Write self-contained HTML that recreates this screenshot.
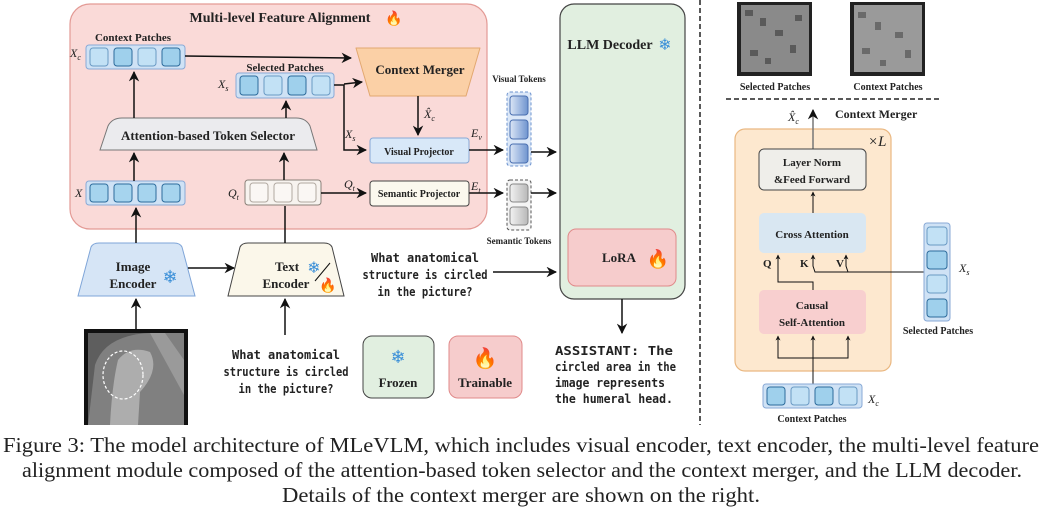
<!DOCTYPE html>
<html><head><meta charset="utf-8"><style>
html,body{margin:0;padding:0;background:#fff;}
svg{display:block;}
text{font-family:"Liberation Serif",serif;fill:#222;}
.b{font-weight:bold;}
.m{font-family:"DejaVu Sans Mono","Liberation Mono",monospace;font-weight:bold;}
.i{font-style:italic;}
.sf{fill:#3a8fd8;font-family:"DejaVu Sans",sans-serif;}
.fl{fill:#f0642a;font-family:"DejaVu Sans",sans-serif;}
</style></head><body>
<svg width="1042" height="513" viewBox="0 0 1042 513" xmlns="http://www.w3.org/2000/svg">
<defs>
<marker id="a" viewBox="0 0 10 10" refX="9" refY="5" markerWidth="7" markerHeight="7" orient="auto-start-reverse"><path d="M0,0 L10,5 L0,10 L3,5 z" fill="#111"/></marker>
<marker id="s" viewBox="0 0 10 10" refX="9" refY="5" markerWidth="5" markerHeight="5" orient="auto-start-reverse"><path d="M0,0 L10,5 L0,10 L3,5 z" fill="#111"/></marker>
<linearGradient id="vt" x1="0" x2="1"><stop offset="0" stop-color="#dbe6f6"/><stop offset="1" stop-color="#6f94cf"/></linearGradient>
<linearGradient id="st" x1="0" x2="1"><stop offset="0" stop-color="#f2f2f2"/><stop offset="1" stop-color="#b8b8b8"/></linearGradient>
</defs>

<!-- Main pink box -->
<rect x="70" y="4" width="417" height="225" rx="20" fill="#fadad8" stroke="#e39a95" stroke-width="1.2"/>
<text x="280" y="22" class="b" font-size="14" text-anchor="middle">Multi-level Feature Alignment</text>
<text x="385" y="23" class="fl" font-size="14">🔥</text>

<!-- Context patches -->
<text x="133" y="41" class="b" font-size="11" text-anchor="middle">Context Patches</text>
<text x="70" y="57" class="i" font-size="12">X<tspan font-size="8" dy="3">c</tspan></text>
<rect x="86" y="45" width="99" height="24" rx="3" fill="#cfe2f5" stroke="#88a9d6"/>
<rect x="90" y="48" width="18" height="18" rx="3" fill="#c2e1f5" stroke="#6a9ac4"/>
<rect x="114" y="48" width="18" height="18" rx="3" fill="#9fd0ec" stroke="#2d6b9c"/>
<rect x="138" y="48" width="18" height="18" rx="3" fill="#c2e1f5" stroke="#6a9ac4"/>
<rect x="162" y="48" width="18" height="18" rx="3" fill="#9fd0ec" stroke="#2d6b9c"/>

<!-- Selected patches -->
<text x="285" y="71" class="b" font-size="11" text-anchor="middle">Selected Patches</text>
<text x="218" y="88" class="i" font-size="12">X<tspan font-size="8" dy="3">s</tspan></text>
<rect x="236" y="73" width="98" height="25" rx="3" fill="#cfe2f5" stroke="#88a9d6"/>
<rect x="240" y="76" width="18" height="19" rx="3" fill="#9fd0ec" stroke="#2d6b9c"/>
<rect x="264" y="76" width="18" height="19" rx="3" fill="#c2e1f5" stroke="#6a9ac4"/>
<rect x="288" y="76" width="18" height="19" rx="3" fill="#9fd0ec" stroke="#2d6b9c"/>
<rect x="312" y="76" width="18" height="19" rx="3" fill="#c2e1f5" stroke="#6a9ac4"/>

<!-- Context Merger -->
<path d="M356,48 L480,48 L466,96 L370,96 Z" fill="#fbd0a6" stroke="#e2a870" stroke-linejoin="round"/>
<text x="420" y="74" class="b" font-size="13" text-anchor="middle">Context Merger</text>
<line x1="185" y1="56" x2="351" y2="58" stroke="#111" stroke-width="1.5" marker-end="url(#a)"/>
<polyline points="334,85 344,85 344,150 366,150" fill="none" stroke="#111" stroke-width="1.5" marker-end="url(#a)"/>
<line x1="344" y1="84" x2="362" y2="82" stroke="#111" stroke-width="1.5" marker-end="url(#a)"/>
<text x="345" y="138" class="i" font-size="12">X<tspan font-size="8" dy="3">s</tspan></text>
<line x1="418" y1="96" x2="418" y2="135" stroke="#111" stroke-width="1.5" marker-end="url(#a)"/>
<text x="424" y="118" class="i" font-size="12">X̂<tspan font-size="8" dy="3">c</tspan></text>

<!-- Token selector -->
<path d="M100,150 L108,126 Q112,118 122,118 L296,118 Q306,118 310,126 L317,150 Z" fill="#ebebee" stroke="#777"/>
<text x="208" y="140" class="b" font-size="13" text-anchor="middle">Attention-based Token Selector</text>
<line x1="134" y1="118" x2="134" y2="72" stroke="#111" stroke-width="1.5" marker-end="url(#a)"/>
<line x1="286" y1="118" x2="286" y2="101" stroke="#111" stroke-width="1.5" marker-end="url(#a)"/>

<!-- X row -->
<text x="75" y="197" class="i" font-size="12">X</text>
<rect x="86" y="181" width="99" height="24" rx="3" fill="#cfe2f5" stroke="#88a9d6"/>
<rect x="90" y="184" width="18" height="18" rx="3" fill="#a6d4ee" stroke="#2d6b9c"/>
<rect x="114" y="184" width="18" height="18" rx="3" fill="#a6d4ee" stroke="#2d6b9c"/>
<rect x="138" y="184" width="18" height="18" rx="3" fill="#a6d4ee" stroke="#2d6b9c"/>
<rect x="162" y="184" width="18" height="18" rx="3" fill="#a6d4ee" stroke="#2d6b9c"/>
<line x1="134" y1="181" x2="134" y2="153" stroke="#111" stroke-width="1.5" marker-end="url(#a)"/>

<!-- Qt row -->
<text x="228" y="197" class="i" font-size="12">Q<tspan font-size="8" dy="3">t</tspan></text>
<rect x="245" y="180" width="76" height="25" rx="3" fill="#f7f3ef" stroke="#8a8078"/>
<rect x="250" y="183" width="18" height="19" rx="3" fill="#faf7f4" stroke="#b0a8a0"/>
<rect x="274" y="183" width="18" height="19" rx="3" fill="#faf7f4" stroke="#b0a8a0"/>
<rect x="298" y="183" width="18" height="19" rx="3" fill="#faf7f4" stroke="#b0a8a0"/>
<line x1="284" y1="180" x2="284" y2="153" stroke="#111" stroke-width="1.5" marker-end="url(#a)"/>
<line x1="321" y1="193" x2="366" y2="193" stroke="#111" stroke-width="1.5" marker-end="url(#a)"/>
<text x="344" y="188" class="i" font-size="12">Q<tspan font-size="8" dy="3">t</tspan></text>

<!-- Projectors -->
<rect x="370" y="138" width="99" height="25" rx="3" fill="#d8e8f8" stroke="#88a9d6"/>
<text x="419" y="155" class="b" font-size="10" text-anchor="middle">Visual Projector</text>
<rect x="370" y="181" width="99" height="25" rx="3" fill="#fbf8ee" stroke="#444"/>
<text x="419" y="197" class="b" font-size="10" text-anchor="middle">Semantic Projector</text>
<text x="471" y="137" class="i" font-size="12">E<tspan font-size="8" dy="3">v</tspan></text>
<text x="471" y="190" class="i" font-size="12">E<tspan font-size="8" dy="3">t</tspan></text>
<line x1="469" y1="150" x2="503" y2="150" stroke="#111" stroke-width="1.5" marker-end="url(#a)"/>
<line x1="469" y1="193" x2="503" y2="193" stroke="#111" stroke-width="1.5" marker-end="url(#a)"/>

<!-- Visual tokens -->
<text x="519" y="82" class="b" font-size="9" text-anchor="middle">Visual Tokens</text>
<rect x="507" y="92" width="24" height="74" rx="3" fill="#dce8f8" stroke="#6d93cf" stroke-dasharray="3,2"/>
<rect x="510" y="96" width="18" height="19" rx="3" fill="url(#vt)" stroke="#4a6fb0"/>
<rect x="510" y="120" width="18" height="19" rx="3" fill="url(#vt)" stroke="#4a6fb0"/>
<rect x="510" y="144" width="18" height="19" rx="3" fill="url(#vt)" stroke="#4a6fb0"/>
<line x1="531" y1="152" x2="556" y2="152" stroke="#111" stroke-width="1.5" marker-end="url(#a)"/>
<!-- Semantic tokens -->
<rect x="507" y="180" width="24" height="50" rx="3" fill="#f4f4f4" stroke="#555" stroke-dasharray="3,2"/>
<rect x="510" y="184" width="18" height="18" rx="3" fill="url(#st)" stroke="#888"/>
<rect x="510" y="207" width="18" height="18" rx="3" fill="url(#st)" stroke="#888"/>
<line x1="531" y1="193" x2="556" y2="193" stroke="#111" stroke-width="1.5" marker-end="url(#a)"/>
<text x="519" y="244" class="b" font-size="9" text-anchor="middle">Semantic Tokens</text>

<!-- LLM Decoder -->
<rect x="560" y="4" width="125" height="295" rx="14" fill="#e1efe0" stroke="#444" stroke-width="1.2"/>
<text x="610" y="49" class="b" font-size="14" text-anchor="middle">LLM Decoder</text>
<text x="665" y="50" class="sf" font-size="16" text-anchor="middle">❄</text>
<rect x="568" y="229" width="108" height="57" rx="8" fill="#f6cccc" stroke="#e08a8a"/>
<text x="619" y="262" class="b" font-size="13" text-anchor="middle">LoRA</text>
<text x="658" y="265" class="fl" font-size="18" text-anchor="middle">🔥</text>
<line x1="622" y1="299" x2="622" y2="333" stroke="#111" stroke-width="1.5" marker-end="url(#a)"/>

<!-- Encoders -->
<path d="M78,296 L91,247 Q93,243 99,243 L174,243 Q180,243 182,247 L195,296 Z" fill="#d6e5f6" stroke="#7fa5d8"/>
<text x="133" y="271" class="b" font-size="13" text-anchor="middle">Image</text>
<text x="133" y="288" class="b" font-size="13" text-anchor="middle">Encoder</text>
<text x="170" y="283" class="sf" font-size="18" text-anchor="middle">❄</text>
<path d="M228,296 L240,247 Q242,243 248,243 L324,243 Q330,243 332,247 L344,296 Z" fill="#fbf7ea" stroke="#444"/>
<text x="287" y="271" class="b" font-size="13" text-anchor="middle">Text</text>
<text x="286" y="288" class="b" font-size="13" text-anchor="middle">Encoder</text>
<text x="314" y="273" class="sf" font-size="16" text-anchor="middle">❄</text>
<line x1="315" y1="281" x2="330" y2="263" stroke="#111"/>
<text x="328" y="290" class="fl" font-size="14" text-anchor="middle">🔥</text>
<line x1="188" y1="268" x2="234" y2="268" stroke="#111" stroke-width="1.5" marker-end="url(#a)"/>
<line x1="136" y1="243" x2="136" y2="208" stroke="#111" stroke-width="1.5" marker-end="url(#a)"/>
<line x1="136" y1="329" x2="136" y2="299" stroke="#111" stroke-width="1.5" marker-end="url(#a)"/>
<line x1="285" y1="243" x2="285" y2="206" stroke="#111" stroke-width="1.5"/>
<line x1="285" y1="335" x2="285" y2="299" stroke="#111" stroke-width="1.5" marker-end="url(#a)"/>

<text x="425" y="262" class="m" font-size="12" text-anchor="middle" textLength="108" lengthAdjust="spacingAndGlyphs">What anatomical</text>
<text x="425" y="279" class="m" font-size="12" text-anchor="middle" textLength="125" lengthAdjust="spacingAndGlyphs">structure is circled</text>
<text x="425" y="296" class="m" font-size="12" text-anchor="middle" textLength="95" lengthAdjust="spacingAndGlyphs">in the picture?</text>
<line x1="493" y1="272" x2="556" y2="272" stroke="#111" stroke-width="1.5" marker-end="url(#a)"/>

<!-- Xray -->
<rect x="84" y="329" width="104" height="96" fill="#111"/>
<rect x="88" y="333" width="96" height="92" fill="#5e5e5e"/>
<path d="M88,425 L95,365 Q105,335 150,333 L184,333 L184,425 Z" fill="#808080"/>
<path d="M110,425 Q112,385 118,360 Q130,345 150,352 Q160,370 140,392 L138,425 Z" fill="#adadad"/>
<path d="M150,333 L184,395 L184,360 L165,333 Z" fill="#9a9a9a"/>
<ellipse cx="123" cy="375" rx="20" ry="24" fill="none" stroke="#fff" stroke-dasharray="3,2" stroke-width="1.2"/>

<text x="286" y="359" class="m" font-size="12" text-anchor="middle" textLength="108" lengthAdjust="spacingAndGlyphs">What anatomical</text>
<text x="286" y="376" class="m" font-size="12" text-anchor="middle" textLength="125" lengthAdjust="spacingAndGlyphs">structure is circled</text>
<text x="286" y="393" class="m" font-size="12" text-anchor="middle" textLength="95" lengthAdjust="spacingAndGlyphs">in the picture?</text>

<rect x="363" y="336" width="71" height="62" rx="9" fill="#e1efe0" stroke="#444"/>
<text x="398" y="363" class="sf" font-size="18" text-anchor="middle">❄</text>
<text x="398" y="387" class="b" font-size="13" text-anchor="middle">Frozen</text>
<rect x="449" y="336" width="73" height="62" rx="9" fill="#f6cccc" stroke="#e08a8a"/>
<text x="485" y="365" class="fl" font-size="20" text-anchor="middle">🔥</text>
<text x="485" y="387" class="b" font-size="13" text-anchor="middle">Trainable</text>

<text x="555" y="355" class="m" font-size="12" textLength="118" lengthAdjust="spacingAndGlyphs">ASSISTANT: The</text>
<text x="555" y="371" class="m" font-size="12" textLength="121" lengthAdjust="spacingAndGlyphs">circled area in the</text>
<text x="555" y="387" class="m" font-size="12" textLength="110" lengthAdjust="spacingAndGlyphs">image represents</text>
<text x="555" y="403" class="m" font-size="12" textLength="118" lengthAdjust="spacingAndGlyphs">the humeral head.</text>

<!-- Divider -->
<line x1="700" y1="0" x2="700" y2="425" stroke="#222" stroke-width="1.5" stroke-dasharray="5,3"/>

<!-- Right thumbnails -->
<rect x="737" y="2" width="75" height="74" fill="#222"/>
<rect x="741" y="5" width="68" height="67" fill="#8a8a8a"/>
<g fill="#5a5a5a"><rect x="745" y="10" width="8" height="6"/><rect x="760" y="18" width="6" height="8"/><rect x="775" y="30" width="8" height="6"/><rect x="790" y="45" width="6" height="8"/><rect x="750" y="50" width="8" height="6"/><rect x="765" y="58" width="6" height="6"/><rect x="795" y="15" width="7" height="6"/></g>
<rect x="850" y="2" width="75" height="74" fill="#222"/>
<rect x="854" y="5" width="68" height="67" fill="#9a9a9a"/>
<g fill="#6a6a6a"><rect x="858" y="12" width="8" height="6"/><rect x="875" y="22" width="6" height="8"/><rect x="895" y="32" width="8" height="6"/><rect x="905" y="50" width="6" height="8"/><rect x="862" y="48" width="8" height="6"/><rect x="880" y="60" width="6" height="6"/></g>
<text x="775" y="90" class="b" font-size="10" text-anchor="middle">Selected Patches</text>
<text x="888" y="90" class="b" font-size="10" text-anchor="middle">Context Patches</text>
<line x1="726" y1="99" x2="942" y2="99" stroke="#222" stroke-width="1.5" stroke-dasharray="5,3"/>

<text x="835" y="118" class="b" font-size="12">Context Merger</text>
<text x="788" y="121" class="i" font-size="12">X̂<tspan font-size="8" dy="3">c</tspan></text>
<rect x="735" y="129" width="156" height="242" rx="10" fill="#fde8cf" stroke="#eab882" stroke-width="1.2"/>
<text x="868" y="146" class="i" font-size="15">×L</text>
<line x1="813" y1="149" x2="813" y2="110" stroke="#777" stroke-width="1.5" marker-end="url(#a)"/>
<rect x="759" y="149" width="107" height="41" rx="5" fill="#efeeea" stroke="#444"/>
<text x="812" y="166" class="b" font-size="11" text-anchor="middle">Layer Norm</text>
<text x="812" y="183" class="b" font-size="11" text-anchor="middle">&amp;Feed Forward</text>
<line x1="813" y1="213" x2="813" y2="192" stroke="#111" stroke-width="1" marker-end="url(#s)"/>
<rect x="759" y="213" width="107" height="40" rx="5" fill="#d9e7f2"/>
<text x="812" y="238" class="b" font-size="11" text-anchor="middle">Cross Attention</text>
<text x="763" y="267" class="b" font-size="11">Q</text>
<text x="800" y="267" class="b" font-size="11">K</text>
<text x="836" y="267" class="b" font-size="11">V</text>
<polyline points="813,290 813,282 778,282 778,255" fill="none" stroke="#111" stroke-width="1" marker-end="url(#s)"/>
<polyline points="924,272 815,272 813,266 813,255" fill="none" stroke="#111" stroke-width="1" marker-end="url(#s)"/>
<polyline points="848,272 846,266 846,255" fill="none" stroke="#111" stroke-width="1" marker-end="url(#s)"/>
<rect x="759" y="290" width="107" height="44" rx="5" fill="#f8cfcf"/>
<text x="812" y="309" class="b" font-size="11" text-anchor="middle">Causal</text>
<text x="812" y="326" class="b" font-size="11" text-anchor="middle">Self-Attention</text>
<polyline points="813,384 813,358 778,358 778,336" fill="none" stroke="#111" stroke-width="1" marker-end="url(#s)"/>
<polyline points="813,358 848,358 848,336" fill="none" stroke="#111" stroke-width="1" marker-end="url(#s)"/>
<line x1="813" y1="358" x2="813" y2="336" stroke="#111" stroke-width="1" marker-end="url(#s)"/>

<!-- selected patches column -->
<rect x="924" y="223" width="26" height="98" rx="3" fill="#cfe2f5" stroke="#88a9d6"/>
<rect x="927" y="227" width="20" height="18" rx="3" fill="#c2e1f5" stroke="#6a9ac4"/>
<rect x="927" y="251" width="20" height="18" rx="3" fill="#9fd0ec" stroke="#2d6b9c"/>
<rect x="927" y="275" width="20" height="18" rx="3" fill="#c2e1f5" stroke="#6a9ac4"/>
<rect x="927" y="299" width="20" height="18" rx="3" fill="#9fd0ec" stroke="#2d6b9c"/>
<text x="959" y="272" class="i" font-size="12">X<tspan font-size="8" dy="3">s</tspan></text>
<text x="938" y="334" class="b" font-size="10" text-anchor="middle">Selected Patches</text>

<!-- context patches row -->
<rect x="763" y="384" width="99" height="24" rx="3" fill="#cfe2f5" stroke="#88a9d6"/>
<rect x="767" y="387" width="18" height="18" rx="3" fill="#9fd0ec" stroke="#2d6b9c"/>
<rect x="791" y="387" width="18" height="18" rx="3" fill="#c2e1f5" stroke="#6a9ac4"/>
<rect x="815" y="387" width="18" height="18" rx="3" fill="#9fd0ec" stroke="#2d6b9c"/>
<rect x="839" y="387" width="18" height="18" rx="3" fill="#c2e1f5" stroke="#6a9ac4"/>
<text x="868" y="403" class="i" font-size="12">X<tspan font-size="8" dy="3">c</tspan></text>
<text x="812" y="422" class="b" font-size="10" text-anchor="middle">Context Patches</text>

<!-- Caption -->
<text x="3" y="452" font-size="21" textLength="1036" lengthAdjust="spacingAndGlyphs">Figure 3: The model architecture of MLeVLM, which includes visual encoder, text encoder, the multi-level feature</text>
<text x="22" y="477" font-size="21" textLength="1000" lengthAdjust="spacingAndGlyphs">alignment module composed of the attention-based token selector and the context merger, and the LLM decoder.</text>
<text x="282" y="502" font-size="21" textLength="478" lengthAdjust="spacingAndGlyphs">Details of the context merger are shown on the right.</text>
</svg>
</body></html>
